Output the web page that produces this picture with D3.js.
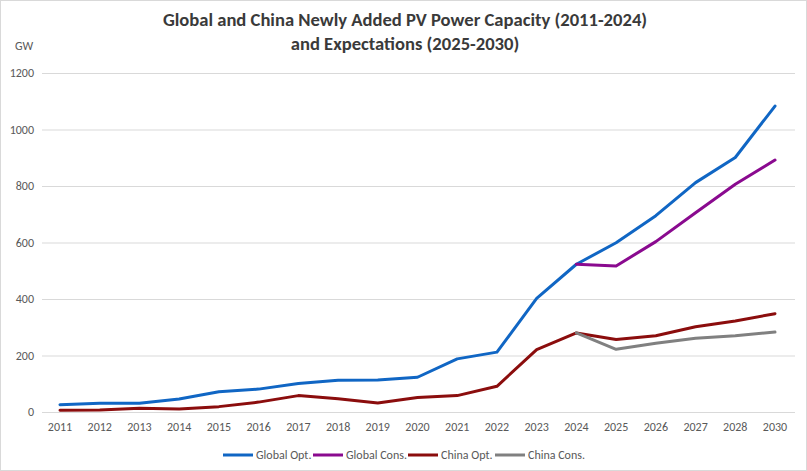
<!DOCTYPE html>
<html><head><meta charset="utf-8">
<script src="https://cdn.jsdelivr.net/npm/d3@7"></script>
<style>body{margin:0;background:#fff}svg{display:block}</style>
</head><body>
<svg id="c" width="807" height="471"></svg>
<script>
const years = ["2011","2012","2013","2014","2015","2016","2017","2018","2019","2020","2021","2022","2023","2024","2025","2026","2027","2028","2030"];
const globalOpt = [26,31,31,46,72,81,101,112,113,123,188,212,402,523,599,695,812,901,1083];
const globalCons = [null,null,null,null,null,null,null,null,null,null,null,null,null,523,517,603,705,806,892];
const chinaOpt = [6,7,13,11,19,35,58,47,32,51,58,91,221,280,257,270,302,322,348];
const chinaCons = [null,null,null,null,null,null,null,null,null,null,null,null,null,280,222,243,261,270,283];
const yTicks = [0,200,400,600,800,1000,1200];
const seriesNames = ["Global Opt.","Global Cons.","China Opt.","China Cons."];
const seriesColors = ["#1066c4","#8a0a8f","#8b0d0d","#808080"];
const seriesData = [globalOpt, globalCons, chinaOpt, chinaCons];

const svg = d3.select("#c");
const font = "Calibri, Carlito, Lato, 'Open Sans', sans-serif";
svg.append("rect").attr("x",0.5).attr("y",0.5).attr("width",806).attr("height",470)
  .attr("fill","#fff").attr("stroke","#d9d9d9");

const x = d3.scalePoint().domain(years).range([60,775]);
const y = d3.scaleLinear().domain([0,1200]).range([412,73]);

// gridlines
svg.append("g").selectAll("line").data(yTicks).join("line")
  .attr("x1",42).attr("x2",795).attr("y1",d=>y(d)+0.5).attr("y2",d=>y(d)+0.5)
  .attr("stroke","#d9d9d9").attr("stroke-width",1);

// y labels
svg.append("g").selectAll("text").data(yTicks).join("text")
  .attr("x",34).attr("y",d=>y(d)+4).attr("text-anchor","end")
  .attr("font-family",font).attr("font-size",12).attr("fill","#595959").text(d=>d);
svg.append("text").attr("x",15).attr("y",50).attr("font-family",font).attr("font-size",12)
  .attr("fill","#595959").text("GW");

// x labels
svg.append("g").selectAll("text").data(years).join("text")
  .attr("x",d=>x(d)).attr("y",431).attr("text-anchor","middle")
  .attr("font-family",font).attr("font-size",12).attr("fill","#595959").text(d=>d);

// lines
const line = d3.line().defined(d=>d.v!=null).x(d=>x(d.k)).y(d=>y(d.v));
seriesData.forEach((arr,i)=>{
  const pts = years.map((k,j)=>({k, v:arr[j]}));
  svg.append("path").attr("d",line(pts)).attr("fill","none")
    .attr("stroke",seriesColors[i]).attr("stroke-width",3)
    .attr("stroke-linejoin","round").attr("stroke-linecap","round");
});

// title
svg.append("text").attr("x",405).attr("y",26).attr("text-anchor","middle")
  .attr("font-family",font).attr("font-weight","bold").attr("font-size",18.6).attr("fill","#3a3a3a")
  .text("Global and China Newly Added PV Power Capacity (2011-2024)");
svg.append("text").attr("x",405).attr("y",50).attr("text-anchor","middle")
  .attr("font-family",font).attr("font-weight","bold").attr("font-size",18.6).attr("fill","#3a3a3a")
  .text("and Expectations (2025-2030)");

// legend
const legX = [223,313,408,495];
const lg = svg.append("g");
seriesNames.forEach((n,i)=>{
  lg.append("line").attr("x1",legX[i]).attr("x2",legX[i]+30).attr("y1",455).attr("y2",455)
    .attr("stroke",seriesColors[i]).attr("stroke-width",3);
  lg.append("text").attr("x",legX[i]+33).attr("y",459).attr("font-family",font).attr("font-size",12)
    .attr("fill","#595959").text(n);
});
</script>
</body></html>
